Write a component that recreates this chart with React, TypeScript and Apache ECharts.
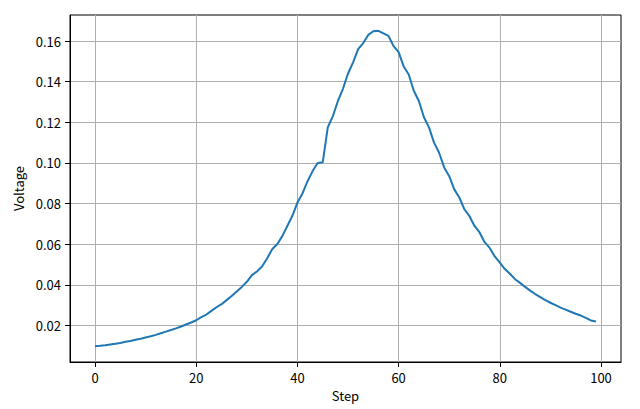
import React, { useEffect, useRef } from "react";
import * as echarts from "echarts";

const voltage: number[] = [
  0.0098, 0.0100, 0.0103, 0.0107, 0.0110, 0.0114, 0.0120, 0.0124, 0.0130, 0.0135,
  0.0141, 0.0147, 0.0154, 0.0162, 0.0170, 0.0178, 0.0186, 0.0195, 0.0205, 0.0215,
  0.0226, 0.0241, 0.0254, 0.0272, 0.0290, 0.0305, 0.0325, 0.0345, 0.0367, 0.0390,
  0.0415, 0.0448, 0.0466, 0.0490, 0.0530, 0.0575, 0.0600, 0.0640, 0.0690, 0.0740,
  0.0805, 0.0850, 0.0910, 0.0960, 0.1000, 0.1003, 0.1175, 0.1230, 0.1305, 0.1365,
  0.1440, 0.1495, 0.1560, 0.1590, 0.1630, 0.1648, 0.1650, 0.1638, 0.1625, 0.1575,
  0.1545, 0.1475, 0.1435, 0.1355, 0.1305, 0.1225, 0.1175, 0.1100, 0.1050, 0.0978,
  0.0935, 0.0870, 0.0830, 0.0772, 0.0738, 0.0690, 0.0658, 0.0610, 0.0582, 0.0540,
  0.0510, 0.0478, 0.0455, 0.0428, 0.0410, 0.0390, 0.0372, 0.0355, 0.0340, 0.0325,
  0.0312, 0.0300, 0.0288, 0.0278, 0.0268, 0.0258, 0.0249, 0.0238, 0.0225, 0.0220,
];
const steps: number[] = voltage.map((_, i) => i);
const xTicks: number[] = [0, 20, 40, 60, 80, 100];
const yTicks: number[] = [0.02, 0.04, 0.06, 0.08, 0.1, 0.12, 0.14, 0.16];

const FONT = "'Noto Sans CJK SC', 'Noto Sans', sans-serif";

export default function App() {
  const ref = useRef<HTMLDivElement>(null);
  useEffect(() => {
    if (!ref.current) return;
    const chart = echarts.init(ref.current, undefined, { renderer: "svg" });
    const gridLine = { show: true, lineStyle: { color: "#b0b0b0", width: 1 } };
    chart.setOption({
      animation: false,
      backgroundColor: "#ffffff",
      grid: {
        left: 70, top: 15, right: 19, bottom: 47,
        show: true, borderColor: "#000", borderWidth: 1, backgroundColor: "transparent",
      },
      xAxis: {
        type: "value",
        min: -4.95,
        max: 103.95,
        name: "Step",
        nameLocation: "middle",
        nameGap: 27,
        nameTextStyle: { color: "#000", fontSize: 13, fontFamily: FONT },
        axisLine: { show: true, onZero: false, lineStyle: { color: "#000", width: 1 } },
        axisTick: { show: true, length: 5, customValues: xTicks, lineStyle: { color: "#000" } },
        axisLabel: { customValues: xTicks, margin: 9, color: "#000", fontSize: 13, fontFamily: FONT },
        splitLine: { ...gridLine, customValues: xTicks },
      },
      yAxis: {
        type: "value",
        min: 0.00205,
        max: 0.1728,
        name: "Voltage",
        nameLocation: "middle",
        nameGap: 44,
        nameTextStyle: { color: "#000", fontSize: 13, fontFamily: FONT },
        axisLine: { show: true, onZero: false, lineStyle: { color: "#000", width: 1 } },
        axisTick: { show: true, length: 5, customValues: yTicks, lineStyle: { color: "#000" } },
        axisLabel: {
          customValues: yTicks, margin: 9, color: "#000", fontSize: 13, fontFamily: FONT,
          formatter: (v: number) => v.toFixed(2),
        },
        splitLine: { ...gridLine, customValues: yTicks },
      },
      series: [
        {
          type: "line",
          data: steps.map((s, i) => [s, voltage[i]]),
          showSymbol: false,
          lineStyle: { color: "#1f77b4", width: 2 },
          itemStyle: { color: "#1f77b4" },
        },
      ],
    });
    return () => chart.dispose();
  }, []);
  return <div ref={ref} style={{ width: 640, height: 409, position: "absolute", left: 0, top: 0 }} />;
}
